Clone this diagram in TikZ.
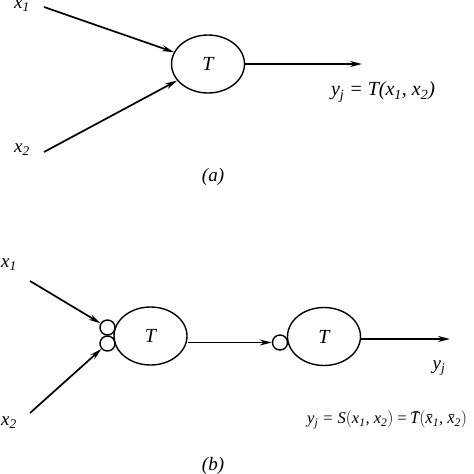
\documentclass[tikz,border=0pt]{standalone}
\usepackage{fontspec}
\setmainfont{Liberation Serif}
\usetikzlibrary{arrows.meta,shapes.geometric}
\newcommand{\vr}[2]{\textit{#1}\textsubscript{\textit{#2}}}

\begin{document}
\begin{tikzpicture}[x=1pt,y=-1pt,
    lbl/.style={font=\fontsize{19}{21}\selectfont\itshape},
    unit/.style={ellipse, draw, line width=1.4pt, minimum width=73pt, minimum height=58pt,
        inner sep=0pt, font=\fontsize{20}{22}\selectfont\itshape},
    inv/.style={circle, draw, line width=1.4pt, minimum size=15pt, inner sep=0pt},
    arr/.style={-{Stealth[length=12pt,width=6pt]}, line width=1.7pt}]
\useasboundingbox (0,0) rectangle (474,474);

% (a)
\node[unit] (T1) at (208,64) {T};
\node[lbl] (A1) at (22,6) {\vr{x}{1}};
\node[lbl] (A2) at (22,150) {\vr{x}{2}};
\coordinate (A1t) at (44,7);
\coordinate (A2t) at (44,152);
\coordinate (Y1e) at (362,64);
\node[lbl, font=\fontsize{20}{22}\selectfont\itshape] (Y1) at (383,92) {\vr{y}{j} = T(\vr{x}{1}, \vr{x}{2})};
\node[lbl] (LA) at (213,177) {(a)};

\draw[arr] (A1t) -- (T1);
\draw[arr] (A2t) -- (T1);
\draw[arr] (T1.east |- Y1e) -- (Y1e);

% (b)
\node[unit] (T2) at (150.5,336) {T};
\node[inv] (C1) at (107.5,327.5) {};
\node[inv] (C2) at (107.5,343.5) {};
\node[unit] (T3) at (324,336.5) {T};
\node[inv] (C3) at (280,342.5) {};
\node[lbl] (B1) at (9,265) {\vr{x}{1}};
\node[lbl] (B2) at (9,423) {\vr{x}{2}};
\coordinate (B1t) at (30,281);
\coordinate (B2t) at (30,413);
\coordinate (Y2e) at (450,339);
\node[lbl] (Y2) at (439,368) {\vr{y}{j}};
\node[lbl, anchor=west, inner sep=1pt, font=\fontsize{16.5}{19}\selectfont\itshape] (F2) at (306,420)
    {\vr{y}{j} = \textit{S}$\bigl($\vr{x}{1}, \vr{x}{2}$\bigr)$\,=\,\={T}$\bigl($\vr{\={x}}{1}, \vr{\={x}}{2}$\bigr)$};
\node[lbl] (LB) at (213,466) {(b)};

\draw[arr] (B1t) -- (C1);
\draw[arr] (B2t) -- (C2);
\draw[arr] (T2.east |- C3) -- (C3);
\draw[arr] (T3.east |- Y2e) -- (Y2e);
\end{tikzpicture}
\end{document}
